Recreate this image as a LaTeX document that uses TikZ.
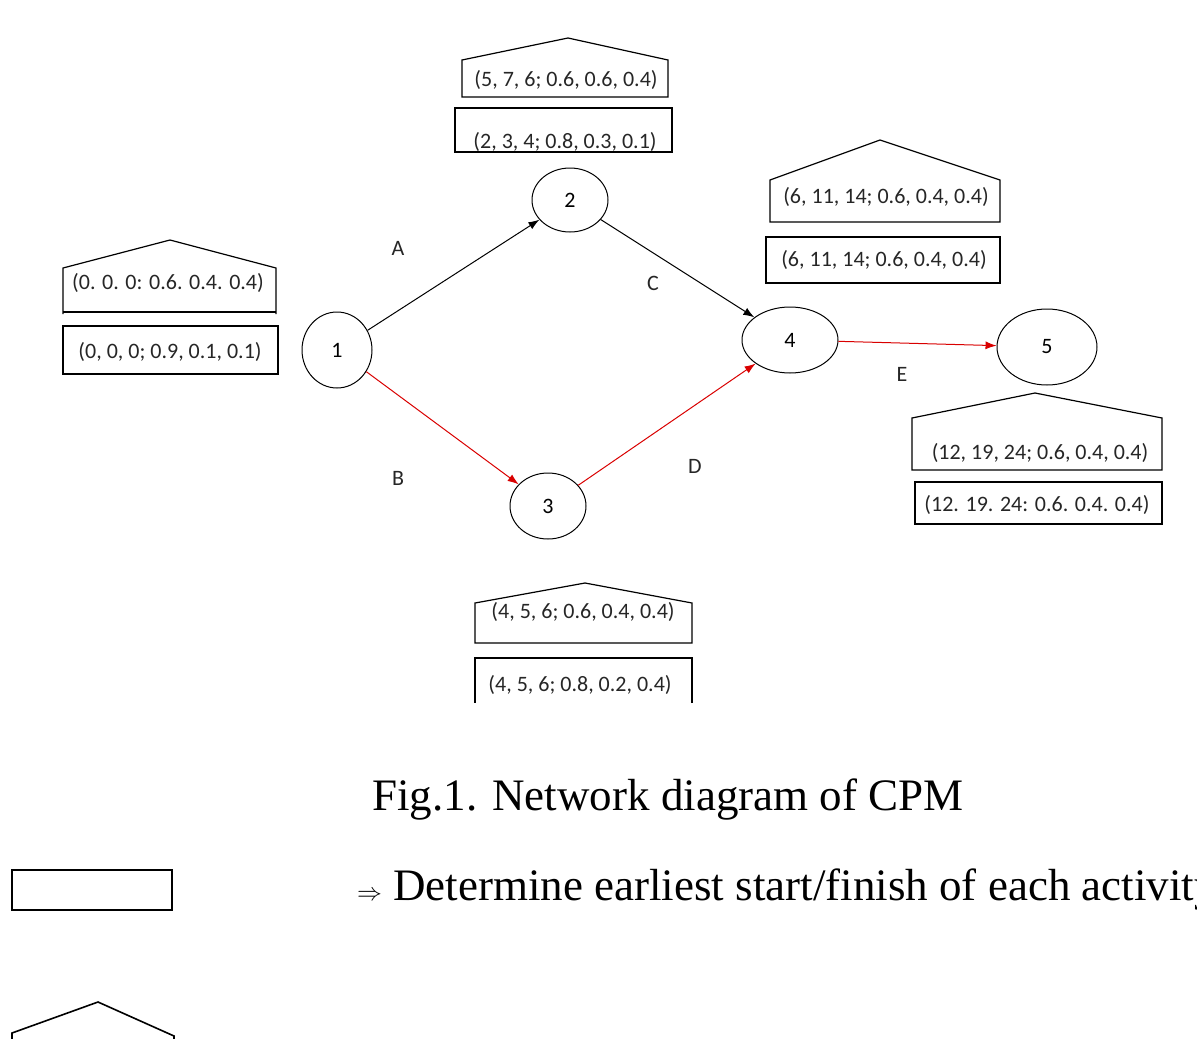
\documentclass[tikz,border=0pt]{standalone}
\usepackage{fontspec}
\setmainfont{Liberation Serif}
\newfontfamily\calfnt{Carlito}
\usetikzlibrary{arrows.meta,shapes.geometric}
\begin{document}
\begin{tikzpicture}[x=1pt,y=-1pt,
  lbl/.style={font=\calfnt\fontsize{22}{24}\selectfont,inner sep=0pt,text=black!85},
  ev/.style={draw,ellipse,inner sep=0pt,line width=1pt,font=\calfnt\fontsize{22}{24}\selectfont},
  box/.style={draw,line width=1.2pt},
  arr/.style={-{Latex[length=11pt,width=8pt]},line width=1pt},
  crit/.style={arr,red!85!black}]
\path[clip] (0,0) rectangle (1197,1039);
\useasboundingbox (0,0) rectangle (1197,1039);
% events
\node[ev,minimum width=70pt,minimum height=76pt] (n1) at (337,350) {1};
\node[ev,minimum width=76pt,minimum height=64pt] (n2) at (570,200) {2};
\node[ev,minimum width=76pt,minimum height=66pt] (n3) at (548,506) {3};
\node[ev,minimum width=96pt,minimum height=66pt] (n4) at (790,340) {4};
\node[ev,minimum width=100pt,minimum height=76pt] (n5) at (1047,347) {5};
% connectors
\draw[arr] (n1) -- (n2);
\draw[arr] (n2) -- (n4);
\draw[crit] (n1) -- (n3);
\draw[crit] (n3) -- (n4);
\draw[crit] (n4) -- (n5);
\node[lbl] (la) at (398,248) {A};
\node[lbl] (lc) at (653,283) {C};
\node[lbl] (lb) at (398,478) {B};
\node[lbl] (ld) at (695,466) {D};
\node[lbl] (le) at (902,374) {E};
% node 1 labels
\draw[box] (63,314) -- (63,268) -- (170,240) -- (276,268) -- (276,314);
\draw[box] (63,312) -- (276,312);
\node[lbl] (h1) at (168,283) {(0. 0. 0: 0.6. 0.4. 0.4)};
\draw[box] (63,326) rectangle (278,374);
\node[lbl] (r1) at (170,352) {(0, 0, 0; 0.9, 0.1, 0.1)};
% node 2 labels
\draw[box] (462,97) -- (462,60) -- (568,38) -- (668,60) -- (668,97) -- cycle;
\node[lbl] (h2) at (566,80) {(5, 7, 6; 0.6, 0.6, 0.4)};
\draw[box] (455,108) rectangle (672,152);
\node[lbl] (r2) at (565,142) {(2, 3, 4; 0.8, 0.3, 0.1)};
% node 4 labels
\draw[box] (770,222) -- (770,180) -- (880,140) -- (1000,180) -- (1000,222) -- cycle;
\node[lbl] (h4) at (886,197) {(6, 11, 14; 0.6, 0.4, 0.4)};
\draw[box] (766,237) rectangle (1000,283);
\node[lbl] (r4) at (884,260) {(6, 11, 14; 0.6, 0.4, 0.4)};
% node 5 labels
\draw[box] (912,470) -- (912,418) -- (1035,393) -- (1162,418) -- (1162,470) -- cycle;
\node[lbl] (h5) at (1040,453) {(12, 19, 24; 0.6, 0.4, 0.4)};
\draw[box] (915,482) rectangle (1162,524);
\node[lbl] (r5) at (1037,505) {(12. 19. 24: 0.6. 0.4. 0.4)};
% node 3 labels
\draw[box] (475,643) -- (475,603) -- (585,583) -- (692,603) -- (692,643) -- cycle;
\node[lbl] (h3) at (583,612) {(4, 5, 6; 0.6, 0.4, 0.4)};
\draw[box] (692,703) -- (692,658) -- (475,658) -- (475,703);
\node[lbl] (r3) at (580,685) {(4, 5, 6; 0.8, 0.2, 0.4)};
% caption and legend
\node[font=\fontsize{45}{50}\selectfont,inner sep=0pt] (cap) at (668,800) {Fig.1. Network diagram of CPM};
\draw[line width=1.6pt] (12,870) rectangle (172,910);
\node[font=\fontsize{45}{50}\selectfont,inner sep=0pt,anchor=west] (leg) at (357,890) {$\Rightarrow$ Determine earliest start/finish of each activity};
\draw[line width=1.6pt] (12,1039) -- (12,1033) -- (98,1002) -- (174,1036) -- (174,1039);
\end{tikzpicture}
\end{document}
